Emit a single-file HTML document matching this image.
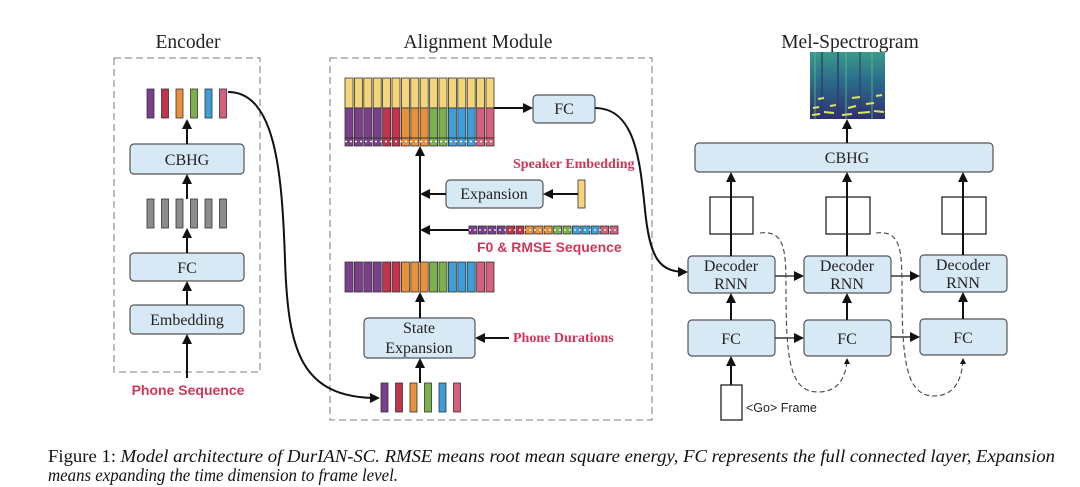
<!DOCTYPE html>
<html><head><meta charset="utf-8"><style>
html,body{margin:0;padding:0;background:#fff;}
svg{display:block;}
.box{fill:#d8e9f6;stroke:#555;stroke-width:1.2;}
.t{font-family:"Liberation Serif",serif;font-size:16px;fill:#222;text-anchor:middle;}
.h{font-family:"Liberation Serif",serif;font-size:19.5px;fill:#222;text-anchor:middle;}
.r{font-family:"Liberation Sans",sans-serif;font-weight:bold;font-size:14px;fill:#d0365a;}
.rs{font-family:"Liberation Serif",serif;font-weight:bold;font-size:14px;fill:#d0365a;}
.dash{fill:none;stroke:#999;stroke-width:1.3;stroke-dasharray:7,4;}
.ln{stroke:#111;stroke-width:2;fill:none;}
.b{stroke:#333;stroke-width:0.8;}
</style></head><body>
<svg width="1080" height="487" viewBox="0 0 1080 487" xmlns="http://www.w3.org/2000/svg">
<defs>
<marker id="ah" markerWidth="10" markerHeight="10" refX="8" refY="5" orient="auto" markerUnits="userSpaceOnUse"><path d="M0,0 L10,5 L0,10 z" fill="#111"/></marker>
<linearGradient id="sp" x1="0" y1="0" x2="0" y2="1"><stop offset="0" stop-color="#3a9a8a"/><stop offset="0.45" stop-color="#2b6a8a"/><stop offset="1" stop-color="#30306e"/></linearGradient>
</defs>

<!-- Titles -->
<text class="h" x="188" y="48">Encoder</text>
<text class="h" x="478" y="48">Alignment Module</text>
<text class="h" x="850" y="48">Mel-Spectrogram</text>

<!-- Encoder -->
<rect class="dash" x="114" y="58" width="146" height="314"/>
<g class="b">
<rect x="147" y="89" width="7" height="29" fill="#7b3f8c"/>
<rect x="161.5" y="89" width="7" height="29" fill="#c0344d"/>
<rect x="176" y="89" width="7" height="29" fill="#e8913a"/>
<rect x="190.5" y="89" width="7" height="29" fill="#7bb04a"/>
<rect x="205" y="89" width="7" height="29" fill="#3f9ed8"/>
<rect x="219.5" y="89" width="7" height="29" fill="#d4607c"/>
<rect x="147" y="199" width="7" height="29" fill="#8c8c8c"/>
<rect x="161.5" y="199" width="7" height="29" fill="#8c8c8c"/>
<rect x="176" y="199" width="7" height="29" fill="#8c8c8c"/>
<rect x="190.5" y="199" width="7" height="29" fill="#8c8c8c"/>
<rect x="205" y="199" width="7" height="29" fill="#8c8c8c"/>
<rect x="219.5" y="199" width="7" height="29" fill="#8c8c8c"/>
</g>
<rect class="box" x="130" y="144" width="114" height="30" rx="4"/><text class="t" x="187" y="165">CBHG</text>
<rect class="box" x="130" y="253" width="114" height="28" rx="4"/><text class="t" x="187" y="273">FC</text>
<rect class="box" x="130" y="305" width="114" height="29" rx="4"/><text class="t" x="187" y="325">Embedding</text>
<line class="ln" x1="187" y1="144" x2="187" y2="121" marker-end="url(#ah)"/>
<line class="ln" x1="187" y1="199" x2="187" y2="176" marker-end="url(#ah)"/>
<line class="ln" x1="187" y1="253" x2="187" y2="230" marker-end="url(#ah)"/>
<line class="ln" x1="187" y1="305" x2="187" y2="283" marker-end="url(#ah)"/>
<line class="ln" x1="187" y1="378" x2="187" y2="336" marker-end="url(#ah)"/>
<text class="r" x="188" y="395" text-anchor="middle">Phone Sequence</text>

<!-- Alignment -->
<rect class="dash" x="330" y="58" width="322" height="362"/>
<g class="b">
<rect x="345" y="78" width="8" height="30" fill="#f5d57a"/><rect x="354.4" y="78" width="8" height="30" fill="#f5d57a"/><rect x="363.8" y="78" width="8" height="30" fill="#f5d57a"/><rect x="373.2" y="78" width="8" height="30" fill="#f5d57a"/><rect x="382.6" y="78" width="8" height="30" fill="#f5d57a"/><rect x="392" y="78" width="8" height="30" fill="#f5d57a"/><rect x="401.4" y="78" width="8" height="30" fill="#f5d57a"/><rect x="410.8" y="78" width="8" height="30" fill="#f5d57a"/><rect x="420.2" y="78" width="8" height="30" fill="#f5d57a"/><rect x="429.6" y="78" width="8" height="30" fill="#f5d57a"/><rect x="439" y="78" width="8" height="30" fill="#f5d57a"/><rect x="448.4" y="78" width="8" height="30" fill="#f5d57a"/><rect x="457.8" y="78" width="8" height="30" fill="#f5d57a"/><rect x="467.2" y="78" width="8" height="30" fill="#f5d57a"/><rect x="476.6" y="78" width="8" height="30" fill="#f5d57a"/><rect x="486" y="78" width="8" height="30" fill="#f5d57a"/>
<rect x="345" y="108" width="8" height="38" fill="#7b3f8c"/><rect x="354.4" y="108" width="8" height="38" fill="#7b3f8c"/><rect x="363.8" y="108" width="8" height="38" fill="#7b3f8c"/><rect x="373.2" y="108" width="8" height="38" fill="#7b3f8c"/><rect x="382.6" y="108" width="8" height="38" fill="#c0344d"/><rect x="392" y="108" width="8" height="38" fill="#c0344d"/><rect x="401.4" y="108" width="8" height="38" fill="#e8913a"/><rect x="410.8" y="108" width="8" height="38" fill="#e8913a"/><rect x="420.2" y="108" width="8" height="38" fill="#e8913a"/><rect x="429.6" y="108" width="8" height="38" fill="#7bb04a"/><rect x="439" y="108" width="8" height="38" fill="#7bb04a"/><rect x="448.4" y="108" width="8" height="38" fill="#3f9ed8"/><rect x="457.8" y="108" width="8" height="38" fill="#3f9ed8"/><rect x="467.2" y="108" width="8" height="38" fill="#3f9ed8"/><rect x="476.6" y="108" width="8" height="38" fill="#d4607c"/><rect x="486" y="108" width="8" height="38" fill="#d4607c"/>
<rect x="345" y="262" width="8" height="30" fill="#7b3f8c"/><rect x="354.4" y="262" width="8" height="30" fill="#7b3f8c"/><rect x="363.8" y="262" width="8" height="30" fill="#7b3f8c"/><rect x="373.2" y="262" width="8" height="30" fill="#7b3f8c"/><rect x="382.6" y="262" width="8" height="30" fill="#c0344d"/><rect x="392" y="262" width="8" height="30" fill="#c0344d"/><rect x="401.4" y="262" width="8" height="30" fill="#e8913a"/><rect x="410.8" y="262" width="8" height="30" fill="#e8913a"/><rect x="420.2" y="262" width="8" height="30" fill="#e8913a"/><rect x="429.6" y="262" width="8" height="30" fill="#7bb04a"/><rect x="439" y="262" width="8" height="30" fill="#7bb04a"/><rect x="448.4" y="262" width="8" height="30" fill="#3f9ed8"/><rect x="457.8" y="262" width="8" height="30" fill="#3f9ed8"/><rect x="467.2" y="262" width="8" height="30" fill="#3f9ed8"/><rect x="476.6" y="262" width="8" height="30" fill="#d4607c"/><rect x="486" y="262" width="8" height="30" fill="#d4607c"/>
<rect x="469" y="226" width="8" height="8" fill="#7b3f8c"/><rect x="478.4" y="226" width="8" height="8" fill="#7b3f8c"/><rect x="487.8" y="226" width="8" height="8" fill="#7b3f8c"/><rect x="497.2" y="226" width="8" height="8" fill="#7b3f8c"/><rect x="506.6" y="226" width="8" height="8" fill="#c0344d"/><rect x="516" y="226" width="8" height="8" fill="#c0344d"/><rect x="525.4" y="226" width="8" height="8" fill="#e8913a"/><rect x="534.8" y="226" width="8" height="8" fill="#e8913a"/><rect x="544.2" y="226" width="8" height="8" fill="#e8913a"/><rect x="553.6" y="226" width="8" height="8" fill="#7bb04a"/><rect x="563" y="226" width="8" height="8" fill="#7bb04a"/><rect x="572.4" y="226" width="8" height="8" fill="#3f9ed8"/><rect x="581.8" y="226" width="8" height="8" fill="#3f9ed8"/><rect x="591.2" y="226" width="8" height="8" fill="#3f9ed8"/><rect x="600.6" y="226" width="8" height="8" fill="#d4607c"/><rect x="610" y="226" width="8" height="8" fill="#d4607c"/>
<rect x="578" y="180" width="7" height="28" fill="#f5d57a"/>
<rect x="381" y="383" width="7" height="29" fill="#7b3f8c"/>
<rect x="395.5" y="383" width="7" height="29" fill="#c0344d"/>
<rect x="410" y="383" width="7" height="29" fill="#e8913a"/>
<rect x="424.5" y="383" width="7" height="29" fill="#7bb04a"/>
<rect x="439" y="383" width="7" height="29" fill="#3f9ed8"/>
<rect x="453.5" y="383" width="7" height="29" fill="#d4607c"/>
</g>
<line x1="345" y1="138" x2="494" y2="138" stroke="#333" stroke-width="1"/>
<line x1="345" y1="141.5" x2="494" y2="141.5" stroke="#fff" stroke-width="1.5" stroke-dasharray="2,3"/>
<line x1="469" y1="230" x2="618" y2="230" stroke="#fff" stroke-width="1.2" stroke-dasharray="2,3"/>

<rect class="box" x="533" y="95" width="62" height="28" rx="4"/><text class="t" x="564" y="114">FC</text>
<rect class="box" x="446" y="180" width="97" height="28" rx="4"/><text class="t" x="494" y="199">Expansion</text>
<rect class="box" x="364" y="318" width="111" height="40" rx="4"/><text class="t" x="419" y="333">State</text><text class="t" x="419" y="353">Expansion</text>
<line class="ln" x1="494" y1="108" x2="531" y2="108" marker-end="url(#ah)"/>
<line class="ln" x1="420" y1="262" x2="420" y2="148" marker-end="url(#ah)"/>
<line class="ln" x1="446" y1="194" x2="422" y2="194" marker-end="url(#ah)"/>
<line class="ln" x1="578" y1="194" x2="545" y2="194" marker-end="url(#ah)"/>
<line class="ln" x1="469" y1="230" x2="422" y2="230" marker-end="url(#ah)"/>
<line class="ln" x1="420" y1="318" x2="420" y2="294" marker-end="url(#ah)"/>
<line class="ln" x1="420" y1="383" x2="420" y2="360" marker-end="url(#ah)"/>
<line class="ln" x1="509" y1="338" x2="477" y2="338" marker-end="url(#ah)"/>
<text class="rs" x="513" y="168">Speaker Embedding</text>
<text class="r" x="477" y="252" font-size="14.5">F0 &amp; RMSE Sequence</text>
<text class="rs" x="513" y="342">Phone Durations</text>

<path class="ln" d="M228,92 C275,92 282,170 285,260 C288,350 300,398 378,398" marker-end="url(#ah)"/>
<path class="ln" d="M595,108 C635,108 640,160 645,210 C650,260 660,272 686,272" marker-end="url(#ah)"/>

<!-- Right -->
<rect x="810" y="52" width="75" height="67" fill="url(#sp)"/>
<g stroke-width="2">
<line x1="815" y1="52" x2="815" y2="119" stroke="#5cc08a" opacity="0.4"/>
<line x1="822" y1="52" x2="822" y2="119" stroke="#2a3a70" opacity="0.6"/>
<line x1="838" y1="52" x2="838" y2="119" stroke="#2a3a70" opacity="0.7"/>
<line x1="846" y1="52" x2="846" y2="119" stroke="#60c090" opacity="0.4"/>
<line x1="860" y1="52" x2="860" y2="119" stroke="#2a3a70" opacity="0.5"/>
<line x1="872" y1="52" x2="872" y2="119" stroke="#60c090" opacity="0.4"/>
</g>
<g stroke="#d8e85a" stroke-width="2">
<line x1="812" y1="115" x2="820" y2="114"/><line x1="824" y1="112" x2="834" y2="113"/><line x1="842" y1="115" x2="852" y2="114"/><line x1="858" y1="113" x2="870" y2="112"/><line x1="874" y1="111" x2="884" y2="112"/>
<line x1="813" y1="108" x2="819" y2="107"/><line x1="830" y1="106" x2="836" y2="105"/><line x1="848" y1="108" x2="856" y2="106"/><line x1="866" y1="104" x2="874" y2="103"/>
<line x1="818" y1="99" x2="824" y2="98"/><line x1="852" y1="98" x2="860" y2="97"/><line x1="876" y1="96" x2="882" y2="95"/>
</g>
<rect class="box" x="695" y="143" width="298" height="29" rx="4"/><text class="t" x="847" y="163">CBHG</text>
<line class="ln" x1="847" y1="143" x2="847" y2="121" marker-end="url(#ah)"/>

<rect x="710" y="197" width="43" height="37" fill="#fff" stroke="#222" stroke-width="1.3"/>
<rect x="826" y="197" width="44" height="37" fill="#fff" stroke="#222" stroke-width="1.3"/>
<rect x="942" y="197" width="44" height="37" fill="#fff" stroke="#222" stroke-width="1.3"/>

<rect class="box" x="688" y="256" width="87" height="37" rx="4"/><text class="t" x="731" y="271">Decoder</text><text class="t" x="731" y="289">RNN</text>
<rect class="box" x="804" y="256" width="87" height="37" rx="4"/><text class="t" x="847" y="271">Decoder</text><text class="t" x="847" y="289">RNN</text>
<rect class="box" x="920" y="255" width="87" height="37" rx="4"/><text class="t" x="963" y="270">Decoder</text><text class="t" x="963" y="288">RNN</text>
<rect class="box" x="688" y="320" width="87" height="36" rx="4"/><text class="t" x="731" y="344">FC</text>
<rect class="box" x="804" y="320" width="87" height="36" rx="4"/><text class="t" x="847" y="344">FC</text>
<rect class="box" x="920" y="319" width="87" height="36" rx="4"/><text class="t" x="963" y="343">FC</text>

<line class="ln" x1="731" y1="256" x2="731" y2="174" marker-end="url(#ah)"/>
<line class="ln" x1="847" y1="256" x2="847" y2="174" marker-end="url(#ah)"/>
<line class="ln" x1="963" y1="255" x2="963" y2="174" marker-end="url(#ah)"/>
<line class="ln" x1="731" y1="320" x2="731" y2="295" marker-end="url(#ah)"/>
<line class="ln" x1="847" y1="320" x2="847" y2="295" marker-end="url(#ah)"/>
<line class="ln" x1="963" y1="319" x2="963" y2="294" marker-end="url(#ah)"/>
<line class="ln" x1="731" y1="385" x2="731" y2="358" marker-end="url(#ah)"/>
<g stroke="#111" stroke-width="1.3" fill="none">
<line x1="775" y1="276" x2="802" y2="276" marker-end="url(#ah)"/>
<line x1="891" y1="276" x2="918" y2="276" marker-end="url(#ah)"/>
<line x1="775" y1="338" x2="802" y2="338" marker-end="url(#ah)"/>
<line x1="891" y1="337" x2="918" y2="337" marker-end="url(#ah)"/>
</g>
<path d="M760,233 C785,230 786,250 786,290 C786,360 790,392 818,392 C840,392 846,375 847,360" fill="none" stroke="#444" stroke-width="1.1" stroke-dasharray="5,3"/>
<path d="M876,233 C901,230 902,250 902,290 C902,360 906,396 934,396 C956,396 962,377 963,360" fill="none" stroke="#444" stroke-width="1.1" stroke-dasharray="5,3"/>
<path d="M844,364 l3,-6 l3,6 z M960,364 l3,-6 l3,6 z" fill="#111"/>

<rect x="721" y="385" width="21" height="35" fill="#fff" stroke="#222" stroke-width="1.3"/>
<text x="746" y="412" font-family="Liberation Sans,sans-serif" font-size="12.5" fill="#222">&lt;Go&gt; Frame</text>

<text x="48" y="462" font-family="Liberation Serif,serif" font-size="17.5" fill="#111" textLength="1007" lengthAdjust="spacingAndGlyphs">Figure 1: <tspan font-style="italic">Model architecture of DurIAN-SC. RMSE means root mean square energy, FC represents the full connected layer, Expansion</tspan></text>
<text x="48" y="481" font-family="Liberation Serif,serif" font-size="17.5" font-style="italic" fill="#111" textLength="350" lengthAdjust="spacingAndGlyphs">means expanding the time dimension to frame level.</text>
</svg>
</body></html>
